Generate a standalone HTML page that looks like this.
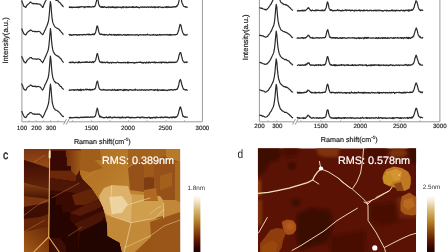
<!DOCTYPE html>
<html><head><meta charset="utf-8">
<style>
html,body{margin:0;padding:0;background:#fff;}
body{width:448px;height:252px;overflow:hidden;position:relative;}
svg{position:absolute;left:0;top:0;}
text{font-family:"Liberation Sans",Arial,sans-serif;text-rendering:geometricPrecision;}
</style></head><body>
<svg width="448" height="252" viewBox="0 0 448 252">
<defs>
<linearGradient id="cbar" x1="0" y1="0" x2="0" y2="1">
<stop offset="0" stop-color="#ffffff"/>
<stop offset="0.09" stop-color="#f4ecd8"/>
<stop offset="0.26" stop-color="#d8b878"/>
<stop offset="0.44" stop-color="#b88830"/>
<stop offset="0.61" stop-color="#905010"/>
<stop offset="0.79" stop-color="#601800"/>
<stop offset="0.93" stop-color="#300500"/>
<stop offset="1" stop-color="#200300"/>
</linearGradient>
<clipPath id="clipc"><rect x="23.9" y="149.1" width="156.3" height="102.9"/></clipPath>
<filter id="blurc" x="-10%" y="-10%" width="120%" height="120%"><feGaussianBlur stdDeviation="1.5"/></filter>
<filter id="blur2" x="-30%" y="-30%" width="160%" height="160%"><feGaussianBlur stdDeviation="1.5"/></filter>
<filter id="blur1" x="-30%" y="-30%" width="160%" height="160%"><feGaussianBlur stdDeviation="0.6"/></filter>
<clipPath id="clipd"><rect x="257.9" y="148.3" width="158.2" height="103.7"/></clipPath>
</defs>
<rect width="448" height="252" fill="#fff"/>
<!-- axes -->
<g fill="none" stroke="#9a9a9a" stroke-width="1">
<path d="M21.9,0 V121.8 H64.8 M68.6,121.8 H202.4 V0"/>
<path d="M259.4,0 V121.8 H293.6 M297.4,121.8 H439.9 V0"/>
<path d="M28.85,121.8 v-1.8 M36.10,121.8 v-1.8 M43.35,121.8 v-1.8 M50.60,121.8 v-1.8 M57.85,121.8 v-1.8 M72.67,121.8 v-1.8 M91.30,121.8 v-1.8 M109.92,121.8 v-1.8 M128.55,121.8 v-1.8 M147.18,121.8 v-1.8 M165.80,121.8 v-1.8 M184.43,121.8 v-1.8 M268.05,121.8 v-1.8 M276.70,121.8 v-1.8 M301.00,121.8 v-1.8 M320.80,121.8 v-1.8 M340.60,121.8 v-1.8 M360.40,121.8 v-1.8 M380.20,121.8 v-1.8 M400.00,121.8 v-1.8 M419.80,121.8 v-1.8" stroke-width="0.6"/>
</g>
<g fill="none" stroke="#666" stroke-width="0.7">
<path d="M63.6,124.6 L66.4,119.2 M66.2,124.6 L69.0,119.2"/>
<path d="M292.6,124.6 L295.4,119.2 M295.2,124.6 L298.0,119.2"/>
</g>
<g fill="none" stroke="#2a2a2a" stroke-width="1.2" stroke-linejoin="round">
<path d="M21.6,0.5 L22.2,2.2 L22.8,3.6 L23.4,5.2 L24.0,6.4 L24.6,6.6 L25.2,7.0 L25.8,7.4 L26.4,6.1 L27.0,5.2 L27.6,4.9 L28.2,4.0 L28.8,3.8 L29.4,3.0 L30.0,2.6 L30.6,1.9 L31.2,2.6 L31.8,3.1 L32.4,3.3 L33.0,3.8 L33.6,3.7 L34.2,3.4 L34.8,3.9 L35.4,3.8 L36.0,3.6 L36.6,3.5 L37.2,4.1 L37.8,3.8 L38.4,4.0 L39.0,4.2 L39.6,4.0 L40.2,4.5 L40.8,4.9 L41.4,5.9 L42.0,6.4 L42.6,7.5 L43.2,6.8 L43.8,4.8 L44.4,3.4 L45.0,2.0 L45.6,1.3 L46.2,-0.3 L46.8,-1.6 L47.4,-3.2 L48.0,-4.8 L48.6,-7.6 L49.2,-12.3 L49.8,-19.8 L50.4,-26.4 L51.0,-22.0 L51.6,-13.9 L52.2,-8.2 L52.8,-5.2 L53.4,-3.2 L54.0,-2.1 L54.6,-1.6 L55.2,-0.4 L55.8,0.1 L56.4,0.4 L57.0,0.5 L57.6,0.8 L58.2,0.8 L58.8,1.9 L59.4,2.3 L60.0,2.8 L60.6,3.2 L61.2,4.4 L61.8,5.2 L62.4,5.3 L63.0,6.5 L63.6,6.9"/>
<path d="M68.8,7.3 L69.2,7.4 L69.6,7.3 L70.0,6.6 L70.4,7.6 L70.8,7.3 L71.2,7.6 L71.6,7.3 L72.0,6.9 L72.4,7.7 L72.8,7.5 L73.2,7.1 L73.6,7.4 L74.0,7.2 L74.4,7.5 L74.8,7.4 L75.2,7.4 L75.6,7.2 L76.0,6.9 L76.4,7.4 L76.8,7.2 L77.2,7.2 L77.6,7.3 L78.0,7.0 L78.4,7.7 L78.8,7.0 L79.2,6.9 L79.6,7.3 L80.0,6.7 L80.4,7.1 L80.8,6.8 L81.2,6.9 L81.6,6.6 L82.0,6.6 L82.4,6.8 L82.8,7.0 L83.2,7.0 L83.6,6.8 L84.0,6.8 L84.4,7.7 L84.8,6.6 L85.2,6.9 L85.6,7.2 L86.0,7.0 L86.4,6.9 L86.8,6.9 L87.2,6.6 L87.6,6.6 L88.0,7.2 L88.4,7.0 L88.8,6.4 L89.2,6.9 L89.6,6.6 L90.0,7.2 L90.4,6.8 L90.8,6.8 L91.2,7.2 L91.6,7.0 L92.0,7.0 L92.4,6.7 L92.8,6.4 L93.2,6.8 L93.6,6.6 L94.0,6.9 L94.4,6.4 L94.8,6.5 L95.2,5.5 L95.6,4.5 L96.0,2.8 L96.4,1.5 L96.8,-0.4 L97.2,-1.7 L97.6,-1.4 L98.0,-0.0 L98.4,2.4 L98.8,4.6 L99.2,5.4 L99.6,6.3 L100.0,6.1 L100.4,6.9 L100.8,7.1 L101.2,7.1 L101.6,6.7 L102.0,7.5 L102.4,6.5 L102.8,7.3 L103.2,7.2 L103.6,7.3 L104.0,6.8 L104.4,6.6 L104.8,6.9 L105.2,7.2 L105.6,7.4 L106.0,7.4 L106.4,7.3 L106.8,7.6 L107.2,7.3 L107.6,7.0 L108.0,7.1 L108.4,7.7 L108.8,6.9 L109.2,6.8 L109.6,7.1 L110.0,7.3 L110.4,7.0 L110.8,7.7 L111.2,7.1 L111.6,7.4 L112.0,6.9 L112.4,7.3 L112.8,6.7 L113.2,7.5 L113.6,7.2 L114.0,7.2 L114.4,7.7 L114.8,7.0 L115.2,7.5 L115.6,7.2 L116.0,7.8 L116.4,7.0 L116.8,7.3 L117.2,7.6 L117.6,7.4 L118.0,6.8 L118.4,7.0 L118.8,7.2 L119.2,7.1 L119.6,7.4 L120.0,7.5 L120.4,7.3 L120.8,7.1 L121.2,7.7 L121.6,7.8 L122.0,7.4 L122.4,7.0 L122.8,6.6 L123.2,7.7 L123.6,6.8 L124.0,7.2 L124.4,7.2 L124.8,7.2 L125.2,7.0 L125.6,7.1 L126.0,7.6 L126.4,6.9 L126.8,7.1 L127.2,7.6 L127.6,7.0 L128.0,7.1 L128.4,7.4 L128.8,7.4 L129.2,6.9 L129.6,7.2 L130.0,6.9 L130.4,7.3 L130.8,7.5 L131.2,7.3 L131.6,7.0 L132.0,7.4 L132.4,6.6 L132.8,7.4 L133.2,6.7 L133.6,7.6 L134.0,7.2 L134.4,7.3 L134.8,7.1 L135.2,7.2 L135.6,7.4 L136.0,6.9 L136.4,7.1 L136.8,6.7 L137.2,7.3 L137.6,7.3 L138.0,7.2 L138.4,7.3 L138.8,7.3 L139.2,7.9 L139.6,7.5 L140.0,7.3 L140.4,7.1 L140.8,6.9 L141.2,7.2 L141.6,7.1 L142.0,7.4 L142.4,7.0 L142.8,6.9 L143.2,7.1 L143.6,7.3 L144.0,7.1 L144.4,7.3 L144.8,6.8 L145.2,7.0 L145.6,7.1 L146.0,7.3 L146.4,7.3 L146.8,7.4 L147.2,6.8 L147.6,6.9 L148.0,6.8 L148.4,7.5 L148.8,7.0 L149.2,7.0 L149.6,7.0 L150.0,7.4 L150.4,7.1 L150.8,6.9 L151.2,7.1 L151.6,6.9 L152.0,7.2 L152.4,7.5 L152.8,7.2 L153.2,7.1 L153.6,6.9 L154.0,7.3 L154.4,7.7 L154.8,6.7 L155.2,6.8 L155.6,7.6 L156.0,7.2 L156.4,7.0 L156.8,7.0 L157.2,7.2 L157.6,7.3 L158.0,6.8 L158.4,7.6 L158.8,6.9 L159.2,7.0 L159.6,6.8 L160.0,7.1 L160.4,7.1 L160.8,7.2 L161.2,7.2 L161.6,7.5 L162.0,7.6 L162.4,7.3 L162.8,7.2 L163.2,7.6 L163.6,7.5 L164.0,7.2 L164.4,7.2 L164.8,7.2 L165.2,7.0 L165.6,7.4 L166.0,6.8 L166.4,7.5 L166.8,6.6 L167.2,6.7 L167.6,6.9 L168.0,7.6 L168.4,7.3 L168.8,6.7 L169.2,7.1 L169.6,7.5 L170.0,7.4 L170.4,7.2 L170.8,7.1 L171.2,6.9 L171.6,7.4 L172.0,7.2 L172.4,6.9 L172.8,7.2 L173.2,7.2 L173.6,6.7 L174.0,6.7 L174.4,6.8 L174.8,7.1 L175.2,6.7 L175.6,7.0 L176.0,6.7 L176.4,6.7 L176.8,5.7 L177.2,6.0 L177.6,5.0 L178.0,4.7 L178.4,3.4 L178.8,2.0 L179.2,-0.1 L179.6,-2.2 L180.0,-3.2 L180.4,-3.2 L180.8,-2.8 L181.2,-1.5 L181.6,0.8 L182.0,2.5 L182.4,3.9 L182.8,4.4 L183.2,5.5 L183.6,6.2 L184.0,6.5 L184.4,6.5 L184.8,6.8 L185.2,7.1 L185.6,6.7 L186.0,6.8 L186.4,7.0 L186.8,7.4 L187.2,7.3 L187.6,7.0"/>
<path d="M21.6,28.5 L22.2,29.8 L22.8,31.6 L23.4,32.9 L24.0,33.9 L24.6,34.4 L25.2,34.7 L25.8,34.9 L26.4,33.9 L27.0,32.9 L27.6,32.2 L28.2,31.6 L28.8,31.4 L29.4,30.5 L30.0,30.6 L30.6,29.9 L31.2,30.3 L31.8,30.6 L32.4,31.2 L33.0,31.5 L33.6,31.4 L34.2,31.4 L34.8,31.6 L35.4,31.7 L36.0,31.4 L36.6,31.7 L37.2,31.8 L37.8,31.5 L38.4,31.4 L39.0,31.4 L39.6,31.8 L40.2,32.0 L40.8,33.0 L41.4,33.7 L42.0,34.0 L42.6,34.7 L43.2,34.1 L43.8,32.6 L44.4,31.5 L45.0,30.1 L45.6,29.0 L46.2,27.3 L46.8,26.3 L47.4,24.5 L48.0,22.8 L48.6,20.3 L49.2,15.2 L49.8,7.5 L50.4,1.5 L51.0,5.2 L51.6,13.5 L52.2,19.2 L52.8,22.4 L53.4,23.9 L54.0,25.3 L54.6,26.3 L55.2,27.0 L55.8,27.3 L56.4,27.9 L57.0,28.4 L57.6,28.3 L58.2,28.8 L58.8,29.1 L59.4,29.8 L60.0,30.7 L60.6,30.9 L61.2,32.1 L61.8,32.8 L62.4,33.0 L63.0,34.2 L63.6,34.5"/>
<path d="M68.8,35.0 L69.2,34.4 L69.6,34.8 L70.0,35.3 L70.4,34.6 L70.8,34.5 L71.2,34.8 L71.6,35.4 L72.0,35.3 L72.4,34.8 L72.8,34.8 L73.2,34.9 L73.6,34.6 L74.0,34.9 L74.4,34.8 L74.8,34.5 L75.2,34.7 L75.6,34.8 L76.0,34.6 L76.4,34.6 L76.8,35.1 L77.2,35.4 L77.6,34.8 L78.0,34.7 L78.4,35.0 L78.8,34.8 L79.2,34.6 L79.6,35.2 L80.0,34.5 L80.4,34.6 L80.8,34.6 L81.2,34.5 L81.6,34.7 L82.0,34.9 L82.4,35.2 L82.8,34.9 L83.2,34.7 L83.6,34.4 L84.0,34.7 L84.4,34.4 L84.8,34.7 L85.2,34.9 L85.6,34.7 L86.0,34.6 L86.4,34.4 L86.8,34.6 L87.2,34.6 L87.6,34.3 L88.0,34.4 L88.4,34.8 L88.8,34.1 L89.2,34.4 L89.6,34.2 L90.0,35.0 L90.4,34.7 L90.8,34.7 L91.2,34.6 L91.6,34.6 L92.0,34.6 L92.4,34.0 L92.8,34.5 L93.2,34.6 L93.6,34.0 L94.0,34.6 L94.4,34.4 L94.8,33.5 L95.2,33.2 L95.6,32.3 L96.0,30.7 L96.4,29.0 L96.8,26.6 L97.2,25.9 L97.6,26.4 L98.0,28.1 L98.4,30.0 L98.8,31.7 L99.2,33.2 L99.6,33.3 L100.0,34.5 L100.4,34.4 L100.8,34.2 L101.2,34.5 L101.6,34.2 L102.0,34.1 L102.4,34.6 L102.8,34.5 L103.2,35.0 L103.6,34.5 L104.0,34.4 L104.4,34.5 L104.8,35.3 L105.2,34.8 L105.6,34.7 L106.0,34.6 L106.4,34.5 L106.8,34.8 L107.2,35.0 L107.6,35.2 L108.0,35.2 L108.4,34.9 L108.8,34.7 L109.2,34.6 L109.6,34.2 L110.0,34.6 L110.4,35.0 L110.8,34.8 L111.2,35.0 L111.6,34.5 L112.0,35.1 L112.4,35.0 L112.8,34.9 L113.2,35.0 L113.6,34.3 L114.0,34.7 L114.4,34.6 L114.8,35.4 L115.2,34.8 L115.6,34.7 L116.0,35.1 L116.4,34.6 L116.8,35.3 L117.2,34.7 L117.6,34.9 L118.0,34.6 L118.4,35.1 L118.8,34.3 L119.2,35.1 L119.6,34.7 L120.0,34.9 L120.4,34.6 L120.8,35.0 L121.2,34.9 L121.6,35.1 L122.0,35.0 L122.4,35.1 L122.8,35.2 L123.2,34.8 L123.6,34.6 L124.0,34.5 L124.4,35.1 L124.8,34.8 L125.2,35.2 L125.6,34.9 L126.0,34.6 L126.4,35.1 L126.8,35.4 L127.2,34.8 L127.6,34.6 L128.0,34.7 L128.4,35.1 L128.8,34.7 L129.2,34.8 L129.6,35.1 L130.0,34.9 L130.4,34.9 L130.8,34.7 L131.2,34.7 L131.6,34.9 L132.0,34.9 L132.4,35.1 L132.8,34.8 L133.2,35.0 L133.6,35.0 L134.0,34.9 L134.4,35.1 L134.8,35.2 L135.2,34.9 L135.6,34.9 L136.0,34.6 L136.4,35.0 L136.8,34.9 L137.2,34.8 L137.6,34.7 L138.0,35.1 L138.4,35.6 L138.8,35.0 L139.2,34.9 L139.6,35.0 L140.0,34.7 L140.4,34.9 L140.8,34.7 L141.2,34.7 L141.6,35.0 L142.0,35.0 L142.4,34.9 L142.8,34.7 L143.2,35.0 L143.6,34.6 L144.0,35.1 L144.4,34.8 L144.8,34.9 L145.2,35.1 L145.6,35.0 L146.0,34.5 L146.4,34.8 L146.8,35.0 L147.2,34.6 L147.6,34.2 L148.0,34.9 L148.4,34.9 L148.8,35.0 L149.2,34.9 L149.6,34.9 L150.0,35.0 L150.4,35.3 L150.8,35.0 L151.2,35.0 L151.6,34.8 L152.0,35.2 L152.4,34.8 L152.8,35.1 L153.2,34.3 L153.6,35.0 L154.0,34.9 L154.4,34.8 L154.8,35.2 L155.2,35.0 L155.6,34.8 L156.0,34.7 L156.4,35.4 L156.8,35.1 L157.2,35.1 L157.6,34.7 L158.0,35.2 L158.4,35.0 L158.8,34.8 L159.2,34.9 L159.6,34.4 L160.0,35.1 L160.4,34.6 L160.8,35.1 L161.2,34.8 L161.6,34.7 L162.0,35.0 L162.4,34.9 L162.8,34.6 L163.2,34.9 L163.6,35.0 L164.0,34.8 L164.4,34.5 L164.8,34.8 L165.2,34.6 L165.6,34.7 L166.0,34.9 L166.4,34.8 L166.8,34.8 L167.2,34.4 L167.6,34.9 L168.0,34.8 L168.4,34.7 L168.8,34.9 L169.2,35.4 L169.6,34.5 L170.0,34.4 L170.4,35.0 L170.8,34.6 L171.2,35.2 L171.6,34.5 L172.0,34.7 L172.4,35.0 L172.8,35.0 L173.2,34.9 L173.6,34.9 L174.0,34.7 L174.4,34.6 L174.8,34.6 L175.2,35.0 L175.6,34.8 L176.0,34.5 L176.4,34.4 L176.8,34.3 L177.2,34.1 L177.6,33.1 L178.0,32.2 L178.4,31.0 L178.8,30.0 L179.2,27.6 L179.6,26.3 L180.0,24.4 L180.4,24.8 L180.8,24.9 L181.2,26.4 L181.6,28.3 L182.0,30.1 L182.4,31.6 L182.8,32.8 L183.2,33.5 L183.6,33.8 L184.0,35.0 L184.4,34.5 L184.8,34.7 L185.2,35.2 L185.6,34.9 L186.0,34.8 L186.4,34.8 L186.8,35.2 L187.2,34.4 L187.6,34.5"/>
<path d="M21.6,56.1 L22.2,57.7 L22.8,58.8 L23.4,60.5 L24.0,61.6 L24.6,61.9 L25.2,62.9 L25.8,62.6 L26.4,61.8 L27.0,60.5 L27.6,59.9 L28.2,59.3 L28.8,59.0 L29.4,58.0 L30.0,57.7 L30.6,57.5 L31.2,57.5 L31.8,58.2 L32.4,58.7 L33.0,58.8 L33.6,59.0 L34.2,59.0 L34.8,58.8 L35.4,58.9 L36.0,59.4 L36.6,59.0 L37.2,59.1 L37.8,58.9 L38.4,59.0 L39.0,59.0 L39.6,59.5 L40.2,59.6 L40.8,60.5 L41.4,61.3 L42.0,61.8 L42.6,62.8 L43.2,61.8 L43.8,60.3 L44.4,59.3 L45.0,57.7 L45.6,56.6 L46.2,55.0 L46.8,53.8 L47.4,52.1 L48.0,50.8 L48.6,48.0 L49.2,42.9 L49.8,35.7 L50.4,28.7 L51.0,32.7 L51.6,41.4 L52.2,46.6 L52.8,49.9 L53.4,51.9 L54.0,52.7 L54.6,54.1 L55.2,54.5 L55.8,55.0 L56.4,55.3 L57.0,55.9 L57.6,56.1 L58.2,56.2 L58.8,56.7 L59.4,57.5 L60.0,58.1 L60.6,58.5 L61.2,59.2 L61.8,60.3 L62.4,61.0 L63.0,61.9 L63.6,62.6"/>
<path d="M68.8,62.7 L69.2,62.3 L69.6,62.6 L70.0,62.7 L70.4,62.2 L70.8,62.6 L71.2,62.2 L71.6,62.4 L72.0,62.6 L72.4,62.3 L72.8,61.9 L73.2,62.6 L73.6,62.6 L74.0,62.3 L74.4,62.5 L74.8,63.0 L75.2,62.6 L75.6,62.5 L76.0,62.1 L76.4,62.4 L76.8,62.5 L77.2,62.5 L77.6,62.6 L78.0,62.9 L78.4,61.7 L78.8,62.6 L79.2,62.6 L79.6,61.7 L80.0,62.6 L80.4,62.5 L80.8,62.7 L81.2,62.4 L81.6,62.3 L82.0,62.5 L82.4,62.2 L82.8,62.3 L83.2,62.3 L83.6,62.5 L84.0,62.4 L84.4,62.0 L84.8,62.3 L85.2,62.3 L85.6,61.9 L86.0,62.4 L86.4,61.9 L86.8,61.7 L87.2,62.3 L87.6,62.0 L88.0,62.5 L88.4,62.5 L88.8,62.2 L89.2,61.8 L89.6,62.3 L90.0,61.8 L90.4,62.1 L90.8,62.3 L91.2,62.5 L91.6,62.1 L92.0,62.6 L92.4,61.7 L92.8,61.7 L93.2,62.1 L93.6,62.5 L94.0,61.7 L94.4,61.6 L94.8,61.4 L95.2,60.8 L95.6,60.0 L96.0,58.6 L96.4,56.9 L96.8,54.9 L97.2,53.5 L97.6,53.7 L98.0,55.7 L98.4,57.1 L98.8,59.5 L99.2,60.0 L99.6,61.6 L100.0,62.0 L100.4,62.3 L100.8,61.9 L101.2,62.2 L101.6,62.6 L102.0,61.9 L102.4,62.7 L102.8,62.2 L103.2,62.7 L103.6,62.5 L104.0,62.1 L104.4,62.3 L104.8,62.3 L105.2,62.9 L105.6,62.5 L106.0,62.4 L106.4,62.3 L106.8,62.2 L107.2,61.9 L107.6,62.4 L108.0,62.9 L108.4,62.4 L108.8,62.7 L109.2,63.1 L109.6,62.6 L110.0,62.7 L110.4,62.6 L110.8,62.3 L111.2,62.4 L111.6,63.2 L112.0,62.7 L112.4,62.4 L112.8,62.3 L113.2,62.6 L113.6,62.6 L114.0,62.6 L114.4,62.6 L114.8,62.5 L115.2,62.5 L115.6,62.7 L116.0,62.8 L116.4,62.7 L116.8,62.5 L117.2,62.0 L117.6,62.1 L118.0,62.1 L118.4,62.7 L118.8,62.5 L119.2,62.6 L119.6,62.5 L120.0,62.5 L120.4,62.8 L120.8,62.5 L121.2,62.8 L121.6,62.7 L122.0,62.6 L122.4,62.6 L122.8,62.5 L123.2,62.6 L123.6,62.4 L124.0,62.9 L124.4,62.5 L124.8,62.4 L125.2,62.4 L125.6,62.9 L126.0,62.7 L126.4,62.6 L126.8,62.7 L127.2,62.7 L127.6,62.0 L128.0,63.2 L128.4,62.7 L128.8,62.2 L129.2,62.4 L129.6,62.7 L130.0,62.7 L130.4,62.7 L130.8,62.5 L131.2,62.6 L131.6,62.6 L132.0,62.7 L132.4,62.7 L132.8,62.6 L133.2,62.4 L133.6,62.7 L134.0,63.1 L134.4,63.3 L134.8,62.5 L135.2,62.5 L135.6,62.8 L136.0,62.8 L136.4,62.4 L136.8,62.4 L137.2,62.3 L137.6,62.7 L138.0,62.5 L138.4,62.5 L138.8,62.0 L139.2,62.2 L139.6,62.4 L140.0,62.2 L140.4,62.4 L140.8,62.0 L141.2,62.4 L141.6,62.6 L142.0,62.9 L142.4,63.0 L142.8,62.3 L143.2,62.8 L143.6,63.1 L144.0,62.6 L144.4,62.3 L144.8,62.5 L145.2,62.7 L145.6,63.2 L146.0,62.7 L146.4,62.0 L146.8,62.8 L147.2,62.5 L147.6,62.5 L148.0,62.8 L148.4,62.1 L148.8,62.9 L149.2,62.5 L149.6,62.0 L150.0,62.4 L150.4,62.8 L150.8,62.7 L151.2,62.3 L151.6,62.5 L152.0,62.3 L152.4,62.3 L152.8,62.2 L153.2,62.5 L153.6,62.4 L154.0,62.7 L154.4,61.9 L154.8,62.0 L155.2,63.0 L155.6,62.3 L156.0,62.6 L156.4,62.3 L156.8,62.7 L157.2,62.5 L157.6,62.7 L158.0,62.7 L158.4,62.5 L158.8,62.2 L159.2,62.3 L159.6,62.3 L160.0,62.8 L160.4,62.4 L160.8,62.1 L161.2,62.5 L161.6,63.1 L162.0,61.9 L162.4,62.2 L162.8,62.4 L163.2,62.4 L163.6,62.4 L164.0,62.0 L164.4,62.7 L164.8,62.5 L165.2,62.4 L165.6,62.6 L166.0,62.2 L166.4,62.7 L166.8,62.4 L167.2,62.5 L167.6,62.8 L168.0,62.7 L168.4,62.2 L168.8,62.7 L169.2,62.1 L169.6,62.3 L170.0,62.6 L170.4,62.1 L170.8,62.4 L171.2,62.1 L171.6,62.7 L172.0,62.7 L172.4,62.1 L172.8,62.5 L173.2,62.5 L173.6,62.1 L174.0,62.6 L174.4,62.4 L174.8,62.3 L175.2,62.1 L175.6,62.4 L176.0,62.4 L176.4,62.0 L176.8,62.0 L177.2,61.2 L177.6,60.7 L178.0,59.3 L178.4,58.8 L178.8,56.4 L179.2,54.8 L179.6,53.7 L180.0,52.8 L180.4,52.5 L180.8,52.6 L181.2,54.5 L181.6,56.2 L182.0,57.6 L182.4,59.4 L182.8,60.8 L183.2,61.0 L183.6,61.5 L184.0,62.1 L184.4,62.1 L184.8,62.7 L185.2,62.2 L185.6,62.3 L186.0,62.5 L186.4,62.0 L186.8,62.5 L187.2,62.0 L187.6,62.5"/>
<path d="M21.6,83.6 L22.2,84.9 L22.8,86.2 L23.4,88.3 L24.0,89.3 L24.6,89.4 L25.2,90.1 L25.8,90.2 L26.4,89.4 L27.0,87.9 L27.6,87.0 L28.2,86.8 L28.8,86.3 L29.4,86.1 L30.0,85.6 L30.6,84.9 L31.2,85.3 L31.8,85.7 L32.4,86.3 L33.0,86.2 L33.6,86.4 L34.2,86.2 L34.8,86.6 L35.4,86.2 L36.0,86.9 L36.6,86.6 L37.2,86.7 L37.8,86.4 L38.4,86.5 L39.0,86.7 L39.6,86.9 L40.2,87.0 L40.8,87.6 L41.4,88.8 L42.0,89.4 L42.6,90.0 L43.2,89.1 L43.8,87.8 L44.4,86.7 L45.0,84.7 L45.6,83.8 L46.2,82.6 L46.8,81.0 L47.4,79.9 L48.0,78.3 L48.6,75.5 L49.2,70.7 L49.8,62.7 L50.4,56.1 L51.0,60.4 L51.6,68.6 L52.2,74.0 L52.8,77.7 L53.4,79.1 L54.0,80.8 L54.6,81.8 L55.2,81.9 L55.8,82.9 L56.4,82.8 L57.0,83.0 L57.6,83.2 L58.2,83.5 L58.8,84.5 L59.4,85.0 L60.0,86.0 L60.6,86.5 L61.2,86.6 L61.8,87.6 L62.4,88.3 L63.0,88.8 L63.6,89.6"/>
<path d="M68.8,90.0 L69.2,90.4 L69.6,89.9 L70.0,90.1 L70.4,90.0 L70.8,90.3 L71.2,89.8 L71.6,89.9 L72.0,89.9 L72.4,89.8 L72.8,89.8 L73.2,89.7 L73.6,90.2 L74.0,90.4 L74.4,89.7 L74.8,90.2 L75.2,89.7 L75.6,89.8 L76.0,89.9 L76.4,90.0 L76.8,90.1 L77.2,89.4 L77.6,89.6 L78.0,90.0 L78.4,89.9 L78.8,90.5 L79.2,89.9 L79.6,89.7 L80.0,90.3 L80.4,89.2 L80.8,89.4 L81.2,90.7 L81.6,89.7 L82.0,89.9 L82.4,89.8 L82.8,89.6 L83.2,89.8 L83.6,89.5 L84.0,90.1 L84.4,90.0 L84.8,90.0 L85.2,89.5 L85.6,89.2 L86.0,89.6 L86.4,89.4 L86.8,89.8 L87.2,89.2 L87.6,89.4 L88.0,89.7 L88.4,89.8 L88.8,89.7 L89.2,89.3 L89.6,89.4 L90.0,90.2 L90.4,89.9 L90.8,89.4 L91.2,90.1 L91.6,89.6 L92.0,89.6 L92.4,89.3 L92.8,90.0 L93.2,89.6 L93.6,89.5 L94.0,89.2 L94.4,88.9 L94.8,89.1 L95.2,88.5 L95.6,87.9 L96.0,85.7 L96.4,83.9 L96.8,82.4 L97.2,81.2 L97.6,81.2 L98.0,83.4 L98.4,85.2 L98.8,87.1 L99.2,88.2 L99.6,89.2 L100.0,89.2 L100.4,89.5 L100.8,90.0 L101.2,89.8 L101.6,89.9 L102.0,90.1 L102.4,89.9 L102.8,90.0 L103.2,89.3 L103.6,89.7 L104.0,90.1 L104.4,89.7 L104.8,89.8 L105.2,90.0 L105.6,89.9 L106.0,90.2 L106.4,90.1 L106.8,89.9 L107.2,90.3 L107.6,89.9 L108.0,89.8 L108.4,90.1 L108.8,90.1 L109.2,89.9 L109.6,89.7 L110.0,89.8 L110.4,90.0 L110.8,90.2 L111.2,90.5 L111.6,89.9 L112.0,89.9 L112.4,89.4 L112.8,90.3 L113.2,90.2 L113.6,90.0 L114.0,89.8 L114.4,89.3 L114.8,90.2 L115.2,89.8 L115.6,90.4 L116.0,90.2 L116.4,90.3 L116.8,89.9 L117.2,90.3 L117.6,89.6 L118.0,90.4 L118.4,90.0 L118.8,89.7 L119.2,89.9 L119.6,89.7 L120.0,90.1 L120.4,89.8 L120.8,89.6 L121.2,89.9 L121.6,89.9 L122.0,90.0 L122.4,90.2 L122.8,90.3 L123.2,90.1 L123.6,90.5 L124.0,89.3 L124.4,90.0 L124.8,90.3 L125.2,89.6 L125.6,89.9 L126.0,90.1 L126.4,89.6 L126.8,89.8 L127.2,90.2 L127.6,89.9 L128.0,90.4 L128.4,90.7 L128.8,90.0 L129.2,89.7 L129.6,90.0 L130.0,89.8 L130.4,89.6 L130.8,89.9 L131.2,89.9 L131.6,89.9 L132.0,90.2 L132.4,90.3 L132.8,90.1 L133.2,89.9 L133.6,90.1 L134.0,90.0 L134.4,90.1 L134.8,89.7 L135.2,89.1 L135.6,90.2 L136.0,89.8 L136.4,89.9 L136.8,90.0 L137.2,90.0 L137.6,89.9 L138.0,90.4 L138.4,90.0 L138.8,90.1 L139.2,89.7 L139.6,90.0 L140.0,90.1 L140.4,90.0 L140.8,90.1 L141.2,89.7 L141.6,90.1 L142.0,89.7 L142.4,89.9 L142.8,89.8 L143.2,90.0 L143.6,90.3 L144.0,90.1 L144.4,89.7 L144.8,90.0 L145.2,90.3 L145.6,90.2 L146.0,90.1 L146.4,89.7 L146.8,89.8 L147.2,89.8 L147.6,89.9 L148.0,90.1 L148.4,90.0 L148.8,89.9 L149.2,90.1 L149.6,89.8 L150.0,89.9 L150.4,90.0 L150.8,89.6 L151.2,89.8 L151.6,89.6 L152.0,89.7 L152.4,89.9 L152.8,90.0 L153.2,90.1 L153.6,90.1 L154.0,89.7 L154.4,90.5 L154.8,90.4 L155.2,89.6 L155.6,89.8 L156.0,89.9 L156.4,90.0 L156.8,90.2 L157.2,90.0 L157.6,89.3 L158.0,90.8 L158.4,90.2 L158.8,90.2 L159.2,89.8 L159.6,90.0 L160.0,90.2 L160.4,89.8 L160.8,90.3 L161.2,90.0 L161.6,90.4 L162.0,90.0 L162.4,90.4 L162.8,89.5 L163.2,90.4 L163.6,90.1 L164.0,89.9 L164.4,90.3 L164.8,89.9 L165.2,90.2 L165.6,90.2 L166.0,90.3 L166.4,90.6 L166.8,90.3 L167.2,90.6 L167.6,90.1 L168.0,90.0 L168.4,90.1 L168.8,89.9 L169.2,89.6 L169.6,90.0 L170.0,89.6 L170.4,89.8 L170.8,89.8 L171.2,89.8 L171.6,89.6 L172.0,89.9 L172.4,89.9 L172.8,90.2 L173.2,90.0 L173.6,90.1 L174.0,89.7 L174.4,89.7 L174.8,89.4 L175.2,89.5 L175.6,89.9 L176.0,89.5 L176.4,89.4 L176.8,89.1 L177.2,89.3 L177.6,88.2 L178.0,87.6 L178.4,86.0 L178.8,84.7 L179.2,82.4 L179.6,80.6 L180.0,80.2 L180.4,79.5 L180.8,80.4 L181.2,82.0 L181.6,83.7 L182.0,85.3 L182.4,86.4 L182.8,87.6 L183.2,88.6 L183.6,89.2 L184.0,89.5 L184.4,89.6 L184.8,89.4 L185.2,89.7 L185.6,90.0 L186.0,89.5 L186.4,89.6 L186.8,90.1 L187.2,90.3 L187.6,90.0"/>
<path d="M21.6,111.1 L22.2,112.4 L22.8,114.1 L23.4,115.3 L24.0,116.4 L24.6,117.0 L25.2,117.5 L25.8,117.6 L26.4,116.7 L27.0,115.8 L27.6,114.6 L28.2,114.5 L28.8,113.8 L29.4,113.3 L30.0,112.8 L30.6,112.4 L31.2,112.6 L31.8,113.1 L32.4,113.6 L33.0,114.0 L33.6,114.2 L34.2,113.8 L34.8,114.3 L35.4,114.2 L36.0,114.2 L36.6,114.4 L37.2,113.9 L37.8,114.3 L38.4,114.4 L39.0,113.9 L39.6,114.3 L40.2,114.8 L40.8,115.1 L41.4,116.3 L42.0,117.0 L42.6,117.5 L43.2,116.6 L43.8,115.2 L44.4,114.2 L45.0,112.4 L45.6,111.2 L46.2,110.0 L46.8,108.9 L47.4,107.0 L48.0,105.1 L48.6,103.0 L49.2,97.9 L49.8,90.3 L50.4,84.2 L51.0,87.8 L51.6,96.0 L52.2,102.0 L52.8,104.7 L53.4,106.6 L54.0,108.4 L54.6,108.8 L55.2,109.9 L55.8,109.9 L56.4,110.3 L57.0,110.5 L57.6,111.0 L58.2,111.4 L58.8,111.9 L59.4,112.6 L60.0,113.1 L60.6,114.0 L61.2,114.7 L61.8,115.3 L62.4,116.1 L63.0,116.2 L63.6,117.1"/>
<path d="M68.8,117.5 L69.2,117.6 L69.6,118.1 L70.0,117.4 L70.4,117.8 L70.8,117.3 L71.2,117.7 L71.6,117.7 L72.0,118.1 L72.4,117.7 L72.8,117.5 L73.2,117.7 L73.6,117.7 L74.0,117.4 L74.4,117.7 L74.8,117.4 L75.2,117.4 L75.6,117.4 L76.0,117.7 L76.4,117.3 L76.8,117.2 L77.2,117.8 L77.6,117.3 L78.0,117.3 L78.4,117.7 L78.8,117.7 L79.2,118.0 L79.6,117.5 L80.0,117.3 L80.4,117.6 L80.8,117.3 L81.2,117.5 L81.6,117.2 L82.0,117.7 L82.4,117.2 L82.8,117.5 L83.2,117.3 L83.6,117.6 L84.0,117.4 L84.4,117.0 L84.8,117.3 L85.2,116.9 L85.6,117.4 L86.0,117.4 L86.4,117.4 L86.8,116.9 L87.2,116.9 L87.6,117.4 L88.0,117.3 L88.4,116.9 L88.8,117.0 L89.2,117.4 L89.6,117.5 L90.0,117.2 L90.4,116.8 L90.8,117.2 L91.2,116.8 L91.6,117.2 L92.0,117.1 L92.4,116.9 L92.8,117.2 L93.2,117.0 L93.6,117.1 L94.0,116.8 L94.4,116.9 L94.8,116.3 L95.2,116.3 L95.6,115.1 L96.0,113.7 L96.4,111.0 L96.8,110.2 L97.2,108.0 L97.6,109.2 L98.0,110.6 L98.4,112.9 L98.8,114.7 L99.2,115.2 L99.6,116.6 L100.0,117.1 L100.4,116.1 L100.8,116.9 L101.2,116.7 L101.6,117.2 L102.0,117.3 L102.4,117.4 L102.8,117.3 L103.2,117.8 L103.6,117.7 L104.0,117.3 L104.4,117.8 L104.8,117.6 L105.2,117.5 L105.6,117.4 L106.0,117.4 L106.4,116.8 L106.8,117.4 L107.2,117.6 L107.6,117.9 L108.0,117.4 L108.4,117.1 L108.8,117.5 L109.2,117.0 L109.6,117.7 L110.0,117.5 L110.4,116.8 L110.8,117.3 L111.2,117.6 L111.6,117.8 L112.0,117.9 L112.4,117.9 L112.8,117.2 L113.2,117.6 L113.6,117.4 L114.0,117.4 L114.4,117.4 L114.8,117.0 L115.2,117.6 L115.6,117.3 L116.0,117.5 L116.4,117.7 L116.8,117.7 L117.2,117.3 L117.6,117.2 L118.0,117.7 L118.4,117.4 L118.8,117.3 L119.2,117.2 L119.6,117.9 L120.0,117.5 L120.4,117.3 L120.8,118.1 L121.2,117.8 L121.6,117.4 L122.0,117.1 L122.4,116.9 L122.8,117.9 L123.2,117.3 L123.6,117.6 L124.0,117.7 L124.4,117.6 L124.8,117.3 L125.2,117.3 L125.6,117.9 L126.0,117.4 L126.4,117.1 L126.8,117.6 L127.2,117.2 L127.6,117.3 L128.0,117.2 L128.4,117.5 L128.8,117.0 L129.2,117.5 L129.6,117.7 L130.0,118.0 L130.4,117.3 L130.8,118.0 L131.2,117.8 L131.6,117.6 L132.0,117.1 L132.4,117.6 L132.8,117.6 L133.2,117.7 L133.6,117.7 L134.0,117.8 L134.4,117.5 L134.8,117.5 L135.2,117.6 L135.6,117.7 L136.0,117.8 L136.4,117.4 L136.8,117.3 L137.2,117.4 L137.6,117.2 L138.0,117.1 L138.4,117.5 L138.8,117.5 L139.2,117.2 L139.6,117.6 L140.0,118.0 L140.4,117.6 L140.8,117.4 L141.2,117.7 L141.6,117.2 L142.0,117.2 L142.4,116.9 L142.8,117.5 L143.2,117.2 L143.6,117.5 L144.0,117.8 L144.4,117.6 L144.8,117.3 L145.2,117.8 L145.6,117.5 L146.0,117.5 L146.4,117.7 L146.8,117.5 L147.2,117.9 L147.6,117.8 L148.0,117.3 L148.4,117.4 L148.8,117.4 L149.2,117.1 L149.6,117.9 L150.0,117.7 L150.4,117.6 L150.8,118.4 L151.2,117.6 L151.6,117.7 L152.0,117.5 L152.4,118.0 L152.8,117.6 L153.2,117.2 L153.6,117.7 L154.0,117.7 L154.4,117.5 L154.8,117.4 L155.2,118.0 L155.6,117.2 L156.0,117.9 L156.4,117.3 L156.8,116.9 L157.2,117.0 L157.6,117.5 L158.0,117.7 L158.4,117.6 L158.8,117.6 L159.2,117.5 L159.6,117.4 L160.0,117.5 L160.4,117.2 L160.8,117.8 L161.2,117.1 L161.6,117.3 L162.0,117.0 L162.4,117.7 L162.8,117.5 L163.2,117.3 L163.6,117.7 L164.0,117.2 L164.4,117.0 L164.8,117.4 L165.2,116.8 L165.6,117.4 L166.0,117.2 L166.4,117.0 L166.8,117.4 L167.2,117.6 L167.6,117.2 L168.0,117.2 L168.4,117.7 L168.8,117.5 L169.2,118.0 L169.6,117.8 L170.0,117.4 L170.4,117.2 L170.8,117.4 L171.2,117.1 L171.6,117.3 L172.0,118.0 L172.4,117.2 L172.8,116.9 L173.2,117.1 L173.6,117.5 L174.0,117.2 L174.4,117.5 L174.8,116.8 L175.2,117.7 L175.6,117.1 L176.0,116.9 L176.4,117.1 L176.8,116.6 L177.2,116.2 L177.6,115.7 L178.0,114.4 L178.4,113.6 L178.8,111.7 L179.2,110.0 L179.6,109.1 L180.0,107.2 L180.4,106.9 L180.8,107.6 L181.2,109.2 L181.6,110.8 L182.0,112.5 L182.4,114.0 L182.8,116.1 L183.2,116.4 L183.6,116.2 L184.0,116.8 L184.4,117.2 L184.8,117.1 L185.2,116.7 L185.6,117.1 L186.0,117.1 L186.4,117.2 L186.8,117.0 L187.2,117.1 L187.6,117.6"/>
<path d="M259.4,7.5 L260.0,7.8 L260.6,8.1 L261.2,8.4 L261.8,8.0 L262.4,8.5 L263.0,9.0 L263.6,9.0 L264.2,9.2 L264.8,9.6 L265.4,9.3 L266.0,10.0 L266.6,9.5 L267.2,9.0 L267.8,8.4 L268.4,7.9 L269.0,6.7 L269.6,6.1 L270.2,5.0 L270.8,4.5 L271.4,3.4 L272.0,2.0 L272.6,0.9 L273.2,-0.7 L273.8,-2.5 L274.4,-5.7 L275.0,-10.1 L275.6,-17.3 L276.2,-23.1 L276.8,-20.4 L277.4,-12.4 L278.0,-7.4 L278.6,-3.7 L279.2,-1.5 L279.8,-0.2 L280.4,1.2 L281.0,2.5 L281.6,2.9 L282.2,3.1 L282.8,3.9 L283.4,3.9 L284.0,4.6 L284.6,4.5 L285.2,4.4 L285.8,5.2 L286.4,4.8 L287.0,5.2 L287.6,5.9 L288.2,5.8 L288.8,6.6 L289.4,7.4 L290.0,7.8 L290.6,8.3 L291.2,9.1 L291.8,9.7 L292.4,10.0 L293.0,10.5"/>
<path d="M297.0,10.4 L297.4,10.7 L297.8,11.2 L298.2,10.4 L298.6,10.7 L299.0,10.5 L299.4,10.6 L299.8,11.0 L300.2,10.5 L300.6,10.6 L301.0,10.5 L301.4,10.3 L301.8,10.8 L302.2,10.4 L302.6,10.9 L303.0,10.1 L303.4,10.6 L303.8,10.9 L304.2,10.2 L304.6,10.5 L305.0,10.8 L305.4,10.4 L305.8,10.0 L306.2,9.9 L306.6,9.7 L307.0,9.0 L307.4,8.5 L307.8,8.2 L308.2,7.6 L308.6,8.5 L309.0,8.2 L309.4,8.9 L309.8,9.5 L310.2,10.2 L310.6,10.0 L311.0,10.8 L311.4,10.9 L311.8,10.6 L312.2,10.0 L312.6,10.1 L313.0,10.4 L313.4,10.5 L313.8,10.6 L314.2,10.8 L314.6,10.6 L315.0,10.5 L315.4,10.6 L315.8,9.9 L316.2,10.8 L316.6,10.0 L317.0,9.9 L317.4,10.3 L317.8,10.3 L318.2,10.1 L318.6,10.4 L319.0,10.5 L319.4,10.6 L319.8,10.5 L320.2,10.3 L320.6,10.5 L321.0,10.8 L321.4,10.3 L321.8,10.4 L322.2,9.8 L322.6,10.4 L323.0,10.9 L323.4,10.5 L323.8,10.2 L324.2,10.6 L324.6,10.4 L325.0,10.2 L325.4,9.1 L325.8,8.2 L326.2,7.4 L326.6,5.6 L327.0,3.6 L327.4,1.8 L327.8,2.4 L328.2,4.0 L328.6,5.7 L329.0,7.9 L329.4,8.7 L329.8,9.4 L330.2,10.4 L330.6,10.4 L331.0,9.6 L331.4,9.8 L331.8,10.4 L332.2,10.2 L332.6,10.9 L333.0,10.8 L333.4,10.8 L333.8,10.3 L334.2,10.4 L334.6,10.7 L335.0,10.3 L335.4,10.6 L335.8,10.5 L336.2,10.7 L336.6,10.5 L337.0,10.2 L337.4,9.7 L337.8,10.1 L338.2,10.1 L338.6,10.7 L339.0,10.1 L339.4,10.3 L339.8,10.6 L340.2,10.7 L340.6,10.8 L341.0,10.6 L341.4,10.9 L341.8,10.3 L342.2,10.8 L342.6,10.1 L343.0,10.4 L343.4,10.6 L343.8,10.7 L344.2,10.4 L344.6,10.3 L345.0,10.1 L345.4,9.8 L345.8,9.9 L346.2,10.9 L346.6,10.0 L347.0,10.0 L347.4,10.0 L347.8,10.4 L348.2,10.4 L348.6,10.3 L349.0,10.1 L349.4,10.4 L349.8,10.1 L350.2,10.6 L350.6,10.9 L351.0,10.2 L351.4,10.6 L351.8,10.3 L352.2,10.4 L352.6,10.1 L353.0,10.5 L353.4,10.5 L353.8,10.8 L354.2,11.2 L354.6,10.2 L355.0,10.8 L355.4,10.3 L355.8,10.3 L356.2,10.2 L356.6,10.6 L357.0,10.8 L357.4,10.5 L357.8,10.6 L358.2,10.3 L358.6,10.4 L359.0,10.1 L359.4,10.5 L359.8,9.9 L360.2,11.1 L360.6,10.8 L361.0,10.3 L361.4,10.4 L361.8,10.4 L362.2,10.5 L362.6,10.6 L363.0,11.0 L363.4,10.4 L363.8,9.9 L364.2,10.6 L364.6,10.6 L365.0,10.3 L365.4,10.7 L365.8,10.4 L366.2,10.3 L366.6,10.5 L367.0,10.1 L367.4,10.4 L367.8,11.0 L368.2,10.8 L368.6,10.7 L369.0,10.5 L369.4,10.6 L369.8,10.2 L370.2,10.5 L370.6,10.3 L371.0,10.3 L371.4,10.9 L371.8,10.3 L372.2,10.5 L372.6,10.5 L373.0,10.8 L373.4,10.4 L373.8,10.6 L374.2,10.6 L374.6,10.4 L375.0,10.3 L375.4,10.2 L375.8,10.8 L376.2,10.2 L376.6,10.8 L377.0,11.0 L377.4,10.3 L377.8,10.2 L378.2,10.2 L378.6,10.3 L379.0,10.9 L379.4,10.3 L379.8,10.2 L380.2,10.0 L380.6,10.5 L381.0,10.6 L381.4,10.9 L381.8,10.6 L382.2,10.5 L382.6,10.5 L383.0,11.3 L383.4,10.9 L383.8,10.7 L384.2,10.4 L384.6,10.4 L385.0,10.5 L385.4,10.5 L385.8,10.6 L386.2,10.3 L386.6,11.0 L387.0,10.2 L387.4,10.7 L387.8,10.7 L388.2,10.8 L388.6,10.9 L389.0,10.6 L389.4,10.5 L389.8,10.9 L390.2,10.9 L390.6,10.5 L391.0,10.7 L391.4,10.2 L391.8,10.6 L392.2,9.9 L392.6,10.8 L393.0,10.3 L393.4,10.8 L393.8,10.6 L394.2,10.3 L394.6,10.7 L395.0,11.0 L395.4,10.2 L395.8,11.0 L396.2,10.6 L396.6,10.2 L397.0,10.4 L397.4,10.6 L397.8,10.7 L398.2,10.3 L398.6,10.4 L399.0,10.6 L399.4,10.6 L399.8,11.0 L400.2,10.7 L400.6,10.7 L401.0,10.2 L401.4,10.2 L401.8,10.2 L402.2,10.5 L402.6,10.6 L403.0,10.9 L403.4,10.7 L403.8,10.2 L404.2,10.4 L404.6,11.1 L405.0,10.5 L405.4,10.6 L405.8,10.1 L406.2,10.0 L406.6,10.3 L407.0,10.4 L407.4,10.6 L407.8,10.4 L408.2,9.9 L408.6,11.1 L409.0,10.5 L409.4,9.9 L409.8,10.8 L410.2,10.5 L410.6,10.2 L411.0,10.3 L411.4,10.3 L411.8,9.5 L412.2,10.3 L412.6,9.8 L413.0,9.6 L413.4,8.7 L413.8,7.9 L414.2,7.4 L414.6,4.6 L415.0,4.3 L415.4,2.8 L415.8,0.9 L416.2,0.9 L416.6,1.2 L417.0,2.3 L417.4,3.6 L417.8,5.2 L418.2,6.9 L418.6,8.0 L419.0,9.0 L419.4,9.6 L419.8,9.6 L420.2,10.6 L420.6,10.6 L421.0,9.8 L421.4,10.2 L421.8,10.2 L422.2,10.4 L422.6,10.1 L423.0,10.8"/>
<path d="M259.4,34.9 L260.0,35.5 L260.6,35.3 L261.2,35.8 L261.8,35.5 L262.4,35.9 L263.0,35.9 L263.6,36.2 L264.2,36.7 L264.8,36.8 L265.4,37.1 L266.0,37.1 L266.6,36.8 L267.2,36.4 L267.8,36.3 L268.4,35.0 L269.0,34.4 L269.6,33.8 L270.2,32.7 L270.8,31.5 L271.4,31.0 L272.0,29.2 L272.6,27.9 L273.2,26.6 L273.8,25.0 L274.4,22.3 L275.0,17.0 L275.6,9.8 L276.2,4.4 L276.8,7.1 L277.4,14.5 L278.0,20.5 L278.6,23.5 L279.2,26.0 L279.8,27.3 L280.4,28.8 L281.0,30.0 L281.6,30.2 L282.2,30.6 L282.8,31.2 L283.4,31.6 L284.0,31.5 L284.6,31.8 L285.2,32.1 L285.8,32.4 L286.4,32.4 L287.0,33.0 L287.6,33.1 L288.2,33.8 L288.8,33.9 L289.4,34.5 L290.0,35.0 L290.6,35.6 L291.2,36.3 L291.8,37.2 L292.4,37.4 L293.0,37.8"/>
<path d="M297.0,38.7 L297.4,37.8 L297.8,38.0 L298.2,37.8 L298.6,37.8 L299.0,38.3 L299.4,38.0 L299.8,38.2 L300.2,38.0 L300.6,38.2 L301.0,38.0 L301.4,37.6 L301.8,37.7 L302.2,38.1 L302.6,37.6 L303.0,37.7 L303.4,38.5 L303.8,38.0 L304.2,37.7 L304.6,38.0 L305.0,38.3 L305.4,37.7 L305.8,37.7 L306.2,37.5 L306.6,36.9 L307.0,36.8 L307.4,36.1 L307.8,35.8 L308.2,35.2 L308.6,35.4 L309.0,35.9 L309.4,36.1 L309.8,36.8 L310.2,37.8 L310.6,37.5 L311.0,37.8 L311.4,37.8 L311.8,38.0 L312.2,37.3 L312.6,38.2 L313.0,38.3 L313.4,37.8 L313.8,38.1 L314.2,38.1 L314.6,38.0 L315.0,38.2 L315.4,37.9 L315.8,37.9 L316.2,37.7 L316.6,38.0 L317.0,37.7 L317.4,37.5 L317.8,37.6 L318.2,38.2 L318.6,37.9 L319.0,38.2 L319.4,37.9 L319.8,37.9 L320.2,37.6 L320.6,37.9 L321.0,38.0 L321.4,38.1 L321.8,38.0 L322.2,37.6 L322.6,37.9 L323.0,38.0 L323.4,37.5 L323.8,37.7 L324.2,37.6 L324.6,37.8 L325.0,37.4 L325.4,37.2 L325.8,36.0 L326.2,34.6 L326.6,32.7 L327.0,30.9 L327.4,30.3 L327.8,29.6 L328.2,31.3 L328.6,33.2 L329.0,34.6 L329.4,36.2 L329.8,37.3 L330.2,36.9 L330.6,37.7 L331.0,37.3 L331.4,38.1 L331.8,37.8 L332.2,37.7 L332.6,37.5 L333.0,38.2 L333.4,37.5 L333.8,37.8 L334.2,38.1 L334.6,37.6 L335.0,37.8 L335.4,37.6 L335.8,38.4 L336.2,38.2 L336.6,37.6 L337.0,37.5 L337.4,37.9 L337.8,38.1 L338.2,38.4 L338.6,38.4 L339.0,38.4 L339.4,37.8 L339.8,37.8 L340.2,38.1 L340.6,38.3 L341.0,37.6 L341.4,38.1 L341.8,38.4 L342.2,38.3 L342.6,37.7 L343.0,38.1 L343.4,38.0 L343.8,37.6 L344.2,37.8 L344.6,38.1 L345.0,37.9 L345.4,38.0 L345.8,38.0 L346.2,38.5 L346.6,38.1 L347.0,38.1 L347.4,38.1 L347.8,37.8 L348.2,37.6 L348.6,37.9 L349.0,37.9 L349.4,37.7 L349.8,38.0 L350.2,38.0 L350.6,38.1 L351.0,37.8 L351.4,37.8 L351.8,37.8 L352.2,38.0 L352.6,37.7 L353.0,37.8 L353.4,37.8 L353.8,38.2 L354.2,37.6 L354.6,38.1 L355.0,38.4 L355.4,38.2 L355.8,37.9 L356.2,38.2 L356.6,38.6 L357.0,38.1 L357.4,38.0 L357.8,38.1 L358.2,37.4 L358.6,38.0 L359.0,38.5 L359.4,37.8 L359.8,38.5 L360.2,37.7 L360.6,38.0 L361.0,38.3 L361.4,38.3 L361.8,37.9 L362.2,37.8 L362.6,38.1 L363.0,38.0 L363.4,37.9 L363.8,38.9 L364.2,38.0 L364.6,37.4 L365.0,38.0 L365.4,37.8 L365.8,37.5 L366.2,38.4 L366.6,38.5 L367.0,37.3 L367.4,38.2 L367.8,37.6 L368.2,38.0 L368.6,37.4 L369.0,37.9 L369.4,38.0 L369.8,38.0 L370.2,38.0 L370.6,37.9 L371.0,38.4 L371.4,38.0 L371.8,38.2 L372.2,38.2 L372.6,38.1 L373.0,37.6 L373.4,38.0 L373.8,38.1 L374.2,38.0 L374.6,38.0 L375.0,38.1 L375.4,38.4 L375.8,37.8 L376.2,37.7 L376.6,37.6 L377.0,38.6 L377.4,38.0 L377.8,37.8 L378.2,38.3 L378.6,37.6 L379.0,38.3 L379.4,37.9 L379.8,38.2 L380.2,38.0 L380.6,38.4 L381.0,37.8 L381.4,38.0 L381.8,37.8 L382.2,38.3 L382.6,37.7 L383.0,38.3 L383.4,38.2 L383.8,37.7 L384.2,38.1 L384.6,37.8 L385.0,38.4 L385.4,37.5 L385.8,37.9 L386.2,38.0 L386.6,38.4 L387.0,38.2 L387.4,38.3 L387.8,37.7 L388.2,37.6 L388.6,38.0 L389.0,38.3 L389.4,38.2 L389.8,38.2 L390.2,38.0 L390.6,37.6 L391.0,37.6 L391.4,37.8 L391.8,37.8 L392.2,38.0 L392.6,38.4 L393.0,38.5 L393.4,37.7 L393.8,37.6 L394.2,38.3 L394.6,38.1 L395.0,37.7 L395.4,38.0 L395.8,37.7 L396.2,38.0 L396.6,38.0 L397.0,37.9 L397.4,37.5 L397.8,38.1 L398.2,38.0 L398.6,37.9 L399.0,38.1 L399.4,38.0 L399.8,37.8 L400.2,37.7 L400.6,37.8 L401.0,37.6 L401.4,38.4 L401.8,37.7 L402.2,38.1 L402.6,37.8 L403.0,37.7 L403.4,38.2 L403.8,38.6 L404.2,37.9 L404.6,37.6 L405.0,37.6 L405.4,37.9 L405.8,37.9 L406.2,38.0 L406.6,37.3 L407.0,37.7 L407.4,38.5 L407.8,38.4 L408.2,37.2 L408.6,38.6 L409.0,37.9 L409.4,37.6 L409.8,38.0 L410.2,38.4 L410.6,38.3 L411.0,37.7 L411.4,37.4 L411.8,37.4 L412.2,37.6 L412.6,36.7 L413.0,37.0 L413.4,36.1 L413.8,35.9 L414.2,33.8 L414.6,33.0 L415.0,31.4 L415.4,30.1 L415.8,29.2 L416.2,27.8 L416.6,29.1 L417.0,29.7 L417.4,31.1 L417.8,33.2 L418.2,34.7 L418.6,35.4 L419.0,35.7 L419.4,37.1 L419.8,37.1 L420.2,36.7 L420.6,37.6 L421.0,37.8 L421.4,37.8 L421.8,38.0 L422.2,38.2 L422.6,37.6 L423.0,38.2"/>
<path d="M259.4,62.5 L260.0,62.6 L260.6,62.3 L261.2,62.9 L261.8,63.1 L262.4,63.3 L263.0,63.6 L263.6,63.8 L264.2,63.9 L264.8,64.3 L265.4,64.3 L266.0,64.2 L266.6,63.9 L267.2,64.0 L267.8,63.1 L268.4,62.5 L269.0,61.9 L269.6,60.9 L270.2,60.1 L270.8,58.9 L271.4,57.9 L272.0,56.4 L272.6,55.2 L273.2,53.9 L273.8,52.2 L274.4,49.2 L275.0,44.1 L275.6,37.3 L276.2,31.1 L276.8,34.5 L277.4,41.7 L278.0,47.6 L278.6,50.8 L279.2,53.5 L279.8,54.7 L280.4,56.2 L281.0,56.9 L281.6,57.4 L282.2,58.2 L282.8,58.2 L283.4,58.7 L284.0,59.1 L284.6,59.6 L285.2,59.6 L285.8,59.3 L286.4,59.7 L287.0,60.4 L287.6,60.7 L288.2,60.7 L288.8,61.0 L289.4,61.7 L290.0,62.7 L290.6,62.9 L291.2,63.9 L291.8,64.0 L292.4,64.7 L293.0,65.2"/>
<path d="M297.0,65.2 L297.4,65.5 L297.8,65.0 L298.2,65.0 L298.6,64.8 L299.0,65.1 L299.4,65.4 L299.8,65.1 L300.2,65.3 L300.6,65.5 L301.0,64.9 L301.4,65.0 L301.8,65.3 L302.2,65.1 L302.6,64.8 L303.0,65.1 L303.4,65.2 L303.8,65.4 L304.2,64.9 L304.6,65.2 L305.0,65.2 L305.4,64.2 L305.8,65.1 L306.2,64.6 L306.6,63.9 L307.0,64.4 L307.4,63.5 L307.8,62.9 L308.2,63.3 L308.6,63.0 L309.0,62.8 L309.4,63.6 L309.8,64.6 L310.2,64.9 L310.6,65.2 L311.0,64.9 L311.4,65.3 L311.8,64.9 L312.2,65.0 L312.6,65.3 L313.0,65.1 L313.4,65.3 L313.8,65.1 L314.2,65.2 L314.6,65.7 L315.0,65.3 L315.4,65.4 L315.8,64.7 L316.2,65.0 L316.6,65.4 L317.0,64.7 L317.4,65.0 L317.8,65.0 L318.2,65.5 L318.6,64.6 L319.0,65.0 L319.4,65.1 L319.8,65.2 L320.2,64.6 L320.6,65.4 L321.0,65.3 L321.4,65.5 L321.8,65.2 L322.2,65.2 L322.6,65.0 L323.0,64.9 L323.4,64.6 L323.8,65.1 L324.2,64.5 L324.6,65.1 L325.0,64.7 L325.4,63.9 L325.8,63.3 L326.2,61.4 L326.6,59.8 L327.0,58.0 L327.4,56.5 L327.8,56.7 L328.2,58.1 L328.6,59.9 L329.0,61.6 L329.4,62.9 L329.8,63.5 L330.2,64.7 L330.6,64.6 L331.0,65.2 L331.4,64.6 L331.8,64.9 L332.2,65.2 L332.6,65.4 L333.0,65.3 L333.4,65.3 L333.8,64.7 L334.2,65.2 L334.6,65.6 L335.0,64.5 L335.4,65.2 L335.8,65.8 L336.2,64.8 L336.6,65.2 L337.0,65.7 L337.4,65.3 L337.8,65.2 L338.2,65.4 L338.6,65.1 L339.0,65.4 L339.4,65.1 L339.8,65.4 L340.2,64.9 L340.6,65.1 L341.0,65.2 L341.4,64.5 L341.8,65.4 L342.2,65.1 L342.6,65.0 L343.0,64.8 L343.4,65.1 L343.8,64.9 L344.2,65.4 L344.6,65.6 L345.0,65.0 L345.4,65.0 L345.8,65.1 L346.2,65.1 L346.6,65.3 L347.0,64.6 L347.4,65.3 L347.8,65.2 L348.2,65.0 L348.6,64.7 L349.0,65.4 L349.4,65.5 L349.8,65.3 L350.2,65.4 L350.6,65.4 L351.0,65.2 L351.4,65.4 L351.8,64.9 L352.2,65.4 L352.6,64.5 L353.0,65.5 L353.4,65.6 L353.8,65.5 L354.2,64.9 L354.6,65.1 L355.0,65.3 L355.4,64.9 L355.8,65.3 L356.2,65.2 L356.6,65.6 L357.0,65.1 L357.4,65.0 L357.8,65.3 L358.2,65.5 L358.6,65.1 L359.0,64.8 L359.4,64.8 L359.8,64.7 L360.2,65.2 L360.6,64.9 L361.0,65.2 L361.4,64.8 L361.8,65.1 L362.2,65.3 L362.6,64.9 L363.0,65.5 L363.4,65.2 L363.8,65.0 L364.2,65.1 L364.6,65.2 L365.0,64.9 L365.4,65.0 L365.8,65.3 L366.2,64.6 L366.6,65.9 L367.0,65.4 L367.4,65.5 L367.8,65.8 L368.2,65.4 L368.6,65.2 L369.0,65.2 L369.4,65.3 L369.8,65.6 L370.2,64.9 L370.6,65.7 L371.0,65.1 L371.4,64.9 L371.8,65.6 L372.2,65.0 L372.6,65.4 L373.0,64.8 L373.4,65.4 L373.8,65.0 L374.2,65.5 L374.6,64.7 L375.0,65.0 L375.4,64.9 L375.8,65.2 L376.2,64.9 L376.6,65.1 L377.0,65.2 L377.4,65.1 L377.8,65.2 L378.2,65.3 L378.6,64.7 L379.0,65.5 L379.4,64.9 L379.8,65.0 L380.2,65.7 L380.6,65.0 L381.0,65.1 L381.4,65.4 L381.8,65.0 L382.2,65.1 L382.6,65.1 L383.0,65.1 L383.4,64.8 L383.8,65.5 L384.2,65.2 L384.6,65.3 L385.0,65.2 L385.4,65.0 L385.8,65.5 L386.2,65.0 L386.6,65.5 L387.0,65.0 L387.4,65.0 L387.8,65.2 L388.2,65.8 L388.6,65.4 L389.0,65.2 L389.4,65.3 L389.8,65.5 L390.2,65.0 L390.6,64.6 L391.0,64.9 L391.4,65.2 L391.8,65.0 L392.2,65.1 L392.6,65.6 L393.0,65.1 L393.4,65.0 L393.8,65.2 L394.2,65.5 L394.6,65.7 L395.0,65.4 L395.4,65.1 L395.8,65.0 L396.2,64.9 L396.6,65.0 L397.0,65.4 L397.4,65.3 L397.8,65.3 L398.2,64.9 L398.6,65.1 L399.0,65.0 L399.4,65.6 L399.8,65.2 L400.2,65.1 L400.6,65.2 L401.0,65.2 L401.4,65.2 L401.8,65.0 L402.2,65.2 L402.6,65.2 L403.0,65.4 L403.4,65.3 L403.8,65.3 L404.2,65.0 L404.6,65.1 L405.0,64.5 L405.4,64.9 L405.8,65.0 L406.2,64.4 L406.6,65.4 L407.0,65.4 L407.4,65.1 L407.8,65.7 L408.2,64.6 L408.6,65.1 L409.0,65.1 L409.4,64.9 L409.8,65.4 L410.2,65.3 L410.6,65.1 L411.0,64.7 L411.4,64.9 L411.8,64.8 L412.2,64.8 L412.6,64.0 L413.0,63.8 L413.4,63.8 L413.8,62.7 L414.2,61.6 L414.6,60.2 L415.0,57.9 L415.4,57.6 L415.8,55.6 L416.2,55.2 L416.6,56.2 L417.0,57.5 L417.4,59.0 L417.8,60.1 L418.2,61.4 L418.6,62.9 L419.0,63.6 L419.4,63.6 L419.8,64.8 L420.2,64.1 L420.6,64.9 L421.0,65.0 L421.4,65.1 L421.8,65.0 L422.2,65.2 L422.6,65.1 L423.0,64.8"/>
<path d="M259.4,89.6 L260.0,90.1 L260.6,90.1 L261.2,90.5 L261.8,90.6 L262.4,90.9 L263.0,90.8 L263.6,91.0 L264.2,91.3 L264.8,91.9 L265.4,92.1 L266.0,92.1 L266.6,91.6 L267.2,90.9 L267.8,91.0 L268.4,90.1 L269.0,89.1 L269.6,88.1 L270.2,87.4 L270.8,86.6 L271.4,85.2 L272.0,84.0 L272.6,82.9 L273.2,81.6 L273.8,79.3 L274.4,76.4 L275.0,71.8 L275.6,64.8 L276.2,58.8 L276.8,61.8 L277.4,69.4 L278.0,74.9 L278.6,78.7 L279.2,80.5 L279.8,82.6 L280.4,83.3 L281.0,84.2 L281.6,84.6 L282.2,85.4 L282.8,85.8 L283.4,86.4 L284.0,86.6 L284.6,86.8 L285.2,86.6 L285.8,87.4 L286.4,87.1 L287.0,87.4 L287.6,87.7 L288.2,88.3 L288.8,88.8 L289.4,89.2 L290.0,89.8 L290.6,90.3 L291.2,91.2 L291.8,91.8 L292.4,91.8 L293.0,92.4"/>
<path d="M297.0,92.7 L297.4,92.2 L297.8,93.2 L298.2,93.3 L298.6,92.6 L299.0,92.2 L299.4,92.4 L299.8,93.3 L300.2,92.3 L300.6,92.8 L301.0,93.2 L301.4,92.6 L301.8,92.7 L302.2,92.8 L302.6,92.7 L303.0,92.8 L303.4,92.9 L303.8,92.4 L304.2,92.4 L304.6,92.6 L305.0,92.3 L305.4,92.5 L305.8,92.3 L306.2,91.9 L306.6,92.2 L307.0,91.0 L307.4,91.2 L307.8,90.0 L308.2,90.2 L308.6,90.5 L309.0,90.7 L309.4,90.9 L309.8,91.5 L310.2,91.9 L310.6,92.4 L311.0,92.2 L311.4,92.2 L311.8,93.0 L312.2,92.6 L312.6,92.6 L313.0,92.4 L313.4,92.8 L313.8,92.9 L314.2,92.8 L314.6,92.7 L315.0,92.1 L315.4,93.1 L315.8,92.4 L316.2,92.9 L316.6,92.8 L317.0,92.6 L317.4,92.7 L317.8,92.7 L318.2,92.4 L318.6,92.7 L319.0,92.2 L319.4,92.6 L319.8,92.9 L320.2,92.5 L320.6,92.7 L321.0,92.9 L321.4,92.6 L321.8,92.6 L322.2,92.8 L322.6,92.7 L323.0,92.1 L323.4,92.5 L323.8,92.5 L324.2,92.4 L324.6,92.1 L325.0,92.4 L325.4,91.9 L325.8,90.9 L326.2,89.3 L326.6,87.0 L327.0,85.5 L327.4,84.1 L327.8,84.4 L328.2,85.7 L328.6,87.7 L329.0,89.8 L329.4,90.4 L329.8,91.8 L330.2,92.4 L330.6,92.5 L331.0,92.8 L331.4,92.2 L331.8,92.8 L332.2,92.4 L332.6,92.5 L333.0,92.2 L333.4,92.4 L333.8,92.7 L334.2,92.6 L334.6,92.6 L335.0,93.1 L335.4,92.9 L335.8,92.6 L336.2,92.9 L336.6,92.3 L337.0,92.6 L337.4,93.0 L337.8,92.8 L338.2,92.4 L338.6,92.2 L339.0,92.7 L339.4,92.9 L339.8,92.9 L340.2,92.3 L340.6,92.6 L341.0,92.6 L341.4,92.5 L341.8,92.4 L342.2,92.7 L342.6,93.1 L343.0,93.0 L343.4,93.0 L343.8,92.6 L344.2,92.5 L344.6,92.8 L345.0,92.4 L345.4,92.8 L345.8,92.6 L346.2,93.4 L346.6,92.6 L347.0,92.8 L347.4,92.7 L347.8,92.7 L348.2,92.5 L348.6,93.0 L349.0,92.8 L349.4,92.5 L349.8,93.4 L350.2,92.9 L350.6,93.0 L351.0,92.7 L351.4,91.9 L351.8,92.6 L352.2,92.6 L352.6,92.9 L353.0,92.6 L353.4,93.0 L353.8,93.1 L354.2,93.2 L354.6,92.2 L355.0,92.7 L355.4,92.6 L355.8,93.1 L356.2,92.9 L356.6,92.6 L357.0,92.9 L357.4,92.6 L357.8,92.6 L358.2,92.0 L358.6,92.1 L359.0,92.8 L359.4,92.5 L359.8,92.9 L360.2,93.0 L360.6,92.5 L361.0,92.8 L361.4,92.7 L361.8,92.4 L362.2,92.6 L362.6,93.2 L363.0,92.9 L363.4,92.4 L363.8,93.2 L364.2,92.6 L364.6,92.8 L365.0,92.2 L365.4,92.9 L365.8,93.0 L366.2,92.5 L366.6,92.7 L367.0,93.0 L367.4,92.7 L367.8,93.0 L368.2,92.7 L368.6,92.7 L369.0,93.1 L369.4,92.5 L369.8,92.7 L370.2,93.1 L370.6,93.2 L371.0,92.8 L371.4,92.4 L371.8,92.4 L372.2,92.4 L372.6,92.8 L373.0,92.8 L373.4,92.5 L373.8,92.8 L374.2,92.8 L374.6,92.9 L375.0,92.6 L375.4,93.0 L375.8,92.8 L376.2,92.9 L376.6,92.9 L377.0,92.7 L377.4,92.5 L377.8,92.1 L378.2,93.0 L378.6,93.1 L379.0,92.3 L379.4,93.4 L379.8,92.9 L380.2,92.5 L380.6,92.6 L381.0,92.8 L381.4,92.7 L381.8,92.8 L382.2,92.7 L382.6,93.0 L383.0,92.8 L383.4,92.4 L383.8,92.5 L384.2,92.7 L384.6,92.6 L385.0,92.7 L385.4,92.4 L385.8,93.1 L386.2,92.6 L386.6,92.6 L387.0,92.6 L387.4,92.9 L387.8,92.6 L388.2,92.8 L388.6,93.0 L389.0,92.7 L389.4,92.4 L389.8,92.3 L390.2,92.8 L390.6,92.7 L391.0,92.8 L391.4,92.3 L391.8,92.9 L392.2,92.6 L392.6,92.5 L393.0,92.4 L393.4,92.2 L393.8,92.6 L394.2,92.5 L394.6,93.5 L395.0,92.9 L395.4,92.6 L395.8,92.5 L396.2,92.7 L396.6,92.3 L397.0,92.5 L397.4,92.5 L397.8,92.5 L398.2,92.4 L398.6,92.5 L399.0,92.8 L399.4,92.6 L399.8,92.1 L400.2,92.6 L400.6,92.8 L401.0,92.7 L401.4,93.1 L401.8,92.6 L402.2,92.7 L402.6,92.8 L403.0,92.4 L403.4,93.1 L403.8,92.8 L404.2,92.1 L404.6,92.6 L405.0,92.9 L405.4,92.2 L405.8,92.8 L406.2,92.4 L406.6,92.7 L407.0,92.3 L407.4,92.5 L407.8,92.4 L408.2,92.5 L408.6,92.5 L409.0,92.7 L409.4,92.4 L409.8,92.0 L410.2,92.3 L410.6,92.7 L411.0,91.9 L411.4,92.3 L411.8,92.3 L412.2,92.4 L412.6,91.9 L413.0,91.8 L413.4,90.8 L413.8,89.9 L414.2,89.2 L414.6,87.2 L415.0,86.0 L415.4,84.5 L415.8,83.4 L416.2,83.0 L416.6,83.5 L417.0,84.8 L417.4,86.0 L417.8,87.5 L418.2,89.4 L418.6,89.9 L419.0,91.5 L419.4,91.7 L419.8,91.7 L420.2,91.8 L420.6,92.5 L421.0,92.0 L421.4,92.4 L421.8,92.3 L422.2,92.8 L422.6,92.0 L423.0,92.2"/>
<path d="M259.4,114.9 L260.0,115.4 L260.6,115.2 L261.2,115.4 L261.8,115.6 L262.4,116.3 L263.0,115.9 L263.6,116.3 L264.2,116.6 L264.8,117.0 L265.4,117.2 L266.0,117.0 L266.6,116.8 L267.2,116.6 L267.8,115.8 L268.4,115.1 L269.0,114.7 L269.6,113.2 L270.2,112.4 L270.8,111.5 L271.4,110.9 L272.0,109.4 L272.6,108.2 L273.2,106.9 L273.8,105.3 L274.4,101.7 L275.0,97.0 L275.6,89.9 L276.2,84.3 L276.8,87.1 L277.4,94.8 L278.0,100.5 L278.6,103.5 L279.2,105.8 L279.8,107.3 L280.4,109.1 L281.0,109.4 L281.6,110.0 L282.2,110.8 L282.8,110.9 L283.4,111.5 L284.0,111.7 L284.6,112.4 L285.2,112.3 L285.8,112.3 L286.4,112.3 L287.0,112.9 L287.6,113.4 L288.2,113.7 L288.8,114.2 L289.4,114.7 L290.0,115.6 L290.6,115.8 L291.2,116.5 L291.8,117.3 L292.4,117.6 L293.0,117.9"/>
<path d="M297.0,118.1 L297.4,117.5 L297.8,117.9 L298.2,118.3 L298.6,118.0 L299.0,117.7 L299.4,117.8 L299.8,118.3 L300.2,118.2 L300.6,118.1 L301.0,118.2 L301.4,118.0 L301.8,118.0 L302.2,117.9 L302.6,117.8 L303.0,118.3 L303.4,117.7 L303.8,118.6 L304.2,118.1 L304.6,117.8 L305.0,118.3 L305.4,118.3 L305.8,117.8 L306.2,117.2 L306.6,117.2 L307.0,116.7 L307.4,116.0 L307.8,115.3 L308.2,115.2 L308.6,115.5 L309.0,115.9 L309.4,116.7 L309.8,116.6 L310.2,117.5 L310.6,117.4 L311.0,117.9 L311.4,117.9 L311.8,118.3 L312.2,118.1 L312.6,117.8 L313.0,118.0 L313.4,117.5 L313.8,118.0 L314.2,118.1 L314.6,118.0 L315.0,117.8 L315.4,118.0 L315.8,118.0 L316.2,118.1 L316.6,117.7 L317.0,118.2 L317.4,118.0 L317.8,117.6 L318.2,117.9 L318.6,118.3 L319.0,118.4 L319.4,117.9 L319.8,117.7 L320.2,117.8 L320.6,118.1 L321.0,118.3 L321.4,118.0 L321.8,117.8 L322.2,118.3 L322.6,118.0 L323.0,117.6 L323.4,117.7 L323.8,118.0 L324.2,117.6 L324.6,117.6 L325.0,117.2 L325.4,117.1 L325.8,116.5 L326.2,115.0 L326.6,112.8 L327.0,110.7 L327.4,110.1 L327.8,109.9 L328.2,110.6 L328.6,113.3 L329.0,114.6 L329.4,115.9 L329.8,116.9 L330.2,117.0 L330.6,117.3 L331.0,118.1 L331.4,117.7 L331.8,117.9 L332.2,118.2 L332.6,118.0 L333.0,117.9 L333.4,118.1 L333.8,118.4 L334.2,118.1 L334.6,117.8 L335.0,118.5 L335.4,118.3 L335.8,117.6 L336.2,118.1 L336.6,118.6 L337.0,117.6 L337.4,117.6 L337.8,118.2 L338.2,117.8 L338.6,117.5 L339.0,118.4 L339.4,117.9 L339.8,118.1 L340.2,118.3 L340.6,118.1 L341.0,117.7 L341.4,118.6 L341.8,118.3 L342.2,118.0 L342.6,117.9 L343.0,117.6 L343.4,118.2 L343.8,117.6 L344.2,118.5 L344.6,117.5 L345.0,118.2 L345.4,117.7 L345.8,117.7 L346.2,118.2 L346.6,118.0 L347.0,118.2 L347.4,117.7 L347.8,118.0 L348.2,117.9 L348.6,118.1 L349.0,118.2 L349.4,118.0 L349.8,117.7 L350.2,118.0 L350.6,117.5 L351.0,117.8 L351.4,118.3 L351.8,117.8 L352.2,118.2 L352.6,117.9 L353.0,117.7 L353.4,118.0 L353.8,118.1 L354.2,118.0 L354.6,118.1 L355.0,118.5 L355.4,118.0 L355.8,118.1 L356.2,117.8 L356.6,118.2 L357.0,117.8 L357.4,118.1 L357.8,117.9 L358.2,118.2 L358.6,118.1 L359.0,118.3 L359.4,118.0 L359.8,118.2 L360.2,118.5 L360.6,117.7 L361.0,117.7 L361.4,118.2 L361.8,118.0 L362.2,118.0 L362.6,117.3 L363.0,117.9 L363.4,118.3 L363.8,118.1 L364.2,118.0 L364.6,118.0 L365.0,117.8 L365.4,117.9 L365.8,118.0 L366.2,117.5 L366.6,118.4 L367.0,117.7 L367.4,118.3 L367.8,118.2 L368.2,117.8 L368.6,117.9 L369.0,118.1 L369.4,118.3 L369.8,117.7 L370.2,118.1 L370.6,118.2 L371.0,117.9 L371.4,118.1 L371.8,117.9 L372.2,117.9 L372.6,117.7 L373.0,117.7 L373.4,118.2 L373.8,118.1 L374.2,118.1 L374.6,117.8 L375.0,118.1 L375.4,118.2 L375.8,117.6 L376.2,117.7 L376.6,117.7 L377.0,118.0 L377.4,118.0 L377.8,118.5 L378.2,118.3 L378.6,117.2 L379.0,118.1 L379.4,117.9 L379.8,118.2 L380.2,117.7 L380.6,117.6 L381.0,117.7 L381.4,118.1 L381.8,117.9 L382.2,118.2 L382.6,118.5 L383.0,117.7 L383.4,117.9 L383.8,118.1 L384.2,118.2 L384.6,117.8 L385.0,118.0 L385.4,117.7 L385.8,118.4 L386.2,118.2 L386.6,118.5 L387.0,118.4 L387.4,118.1 L387.8,118.2 L388.2,118.2 L388.6,118.0 L389.0,117.9 L389.4,117.9 L389.8,118.1 L390.2,118.1 L390.6,118.3 L391.0,118.0 L391.4,118.1 L391.8,118.4 L392.2,117.8 L392.6,117.7 L393.0,118.7 L393.4,117.7 L393.8,117.8 L394.2,118.4 L394.6,117.9 L395.0,117.8 L395.4,118.0 L395.8,117.9 L396.2,117.7 L396.6,117.4 L397.0,117.7 L397.4,117.6 L397.8,117.8 L398.2,117.7 L398.6,118.2 L399.0,118.1 L399.4,117.8 L399.8,118.4 L400.2,118.5 L400.6,117.5 L401.0,117.7 L401.4,118.5 L401.8,118.0 L402.2,117.9 L402.6,117.8 L403.0,117.9 L403.4,118.2 L403.8,118.1 L404.2,117.9 L404.6,117.8 L405.0,117.8 L405.4,118.2 L405.8,117.8 L406.2,117.9 L406.6,117.9 L407.0,118.0 L407.4,117.5 L407.8,118.6 L408.2,118.1 L408.6,118.3 L409.0,117.5 L409.4,117.4 L409.8,117.9 L410.2,117.7 L410.6,117.5 L411.0,118.2 L411.4,117.3 L411.8,117.2 L412.2,118.0 L412.6,117.4 L413.0,116.5 L413.4,116.6 L413.8,115.3 L414.2,114.3 L414.6,113.0 L415.0,111.4 L415.4,110.5 L415.8,108.6 L416.2,108.2 L416.6,108.5 L417.0,109.9 L417.4,111.2 L417.8,113.0 L418.2,114.8 L418.6,116.1 L419.0,116.3 L419.4,117.0 L419.8,117.1 L420.2,117.4 L420.6,117.8 L421.0,117.1 L421.4,117.5 L421.8,117.5 L422.2,117.5 L422.6,117.7 L423.0,117.9"/>
</g>
<g fill="#222" font-size="6.2" stroke="#222" stroke-width="0.15">
<text x="22" y="130.4" text-anchor="middle">100</text>
<text x="36.5" y="130.4" text-anchor="middle">200</text>
<text x="51" y="130.4" text-anchor="middle">300</text>
<text x="91.4" y="130.4" text-anchor="middle">1500</text>
<text x="128" y="130.4" text-anchor="middle">2000</text>
<text x="165.3" y="130.4" text-anchor="middle">2500</text>
<text x="202.4" y="130.4" text-anchor="middle">3000</text>
<text x="259.5" y="128.2" text-anchor="middle">200</text>
<text x="277.3" y="128.2" text-anchor="middle">300</text>
<text x="320.7" y="128.2" text-anchor="middle">1500</text>
<text x="360.3" y="128.2" text-anchor="middle">2000</text>
<text x="399.8" y="128.2" text-anchor="middle">2500</text>
<text x="439.8" y="128.2" text-anchor="middle">3000</text>
</g>
<g fill="#222" font-size="7.2" stroke="#222" stroke-width="0.18">
<text x="73.9" y="143.9">Raman shift(cm<tspan font-size="4.6" dy="-2.8">-1</tspan><tspan dy="2.8">)</tspan></text>
<text x="320.8" y="141.6">Raman shift(cm<tspan font-size="4.6" dy="-2.8">-1</tspan><tspan dy="2.8">)</tspan></text>
<text transform="translate(7.9,63.6) rotate(-90)" font-size="7.65">Intensity(a.u.)</text>
<text transform="translate(248.3,60.2) rotate(-90)" font-size="7.55">Intensity(a.u.)</text>
</g>
<g fill="#222" font-size="12">
<text transform="translate(2.9,158.9) scale(0.88,1)" stroke="#222" stroke-width="0.35">c</text>
<text transform="translate(237.6,157.7) scale(0.85,1)">d</text>
</g>
<g clip-path="url(#clipc)">
<defs>
<linearGradient id="gL1" x1="0" y1="0" x2="0" y2="1"><stop offset="0" stop-color="#7a3410"/><stop offset="1" stop-color="#9a4c18"/></linearGradient>
<linearGradient id="gL2" x1="0" y1="0" x2="0" y2="1"><stop offset="0" stop-color="#3e0c03"/><stop offset="1" stop-color="#64240a"/></linearGradient>
<linearGradient id="gL3" x1="0" y1="0" x2="0" y2="1"><stop offset="0" stop-color="#84400f"/><stop offset="1" stop-color="#3e0e04"/></linearGradient>
<linearGradient id="gL5" x1="1" y1="0" x2="0" y2="1"><stop offset="0" stop-color="#6a2808"/><stop offset="0.5" stop-color="#84400f"/><stop offset="1" stop-color="#a45c1a"/></linearGradient>
<linearGradient id="gM3" x1="0" y1="0" x2="1" y2="0"><stop offset="0" stop-color="#74300c"/><stop offset="1" stop-color="#a05a18"/></linearGradient>
<linearGradient id="gG" x1="0" y1="0" x2="1" y2="1"><stop offset="0" stop-color="#ac6c20"/><stop offset="0.5" stop-color="#c08430"/><stop offset="1" stop-color="#aa6822"/></linearGradient>
</defs>
<rect x="23.9" y="149.1" width="156.3" height="102.9" fill="#4a1406"/>
<!-- golden region -->
<path d="M80.5,148.5 L180.2,148.5 L180.2,252 L125,252 L117.9,240 L109,235.3 L107,224.4 L104.8,215.6 L102.6,206.9 L100.4,202.5 L97,197 L95,194 L91.4,188.6 L88,185 L83,180 L80,174 L80,170 Z" fill="url(#gG)"/>
<path d="M80.5,148.5 L100,148.5 L101,160 L94.6,160 L103,168 L90,172 L80,170 Z" fill="#a05e1a"/>
<path d="M128,168 L144,158 L166,156 L180.2,162 L180.2,202 L160,200 L150,196 L144,192 L130,190 Z" fill="#96501a"/>
<path d="M166,148.5 L180.2,148.5 L180.2,162 L166,157 Z" fill="#b87a2a"/>
<path d="M128,148.5 L166,148.5 L166,156 L144,158 L128,166 Z" fill="#a4621c"/>
<path d="M150,204 L180.2,200 L180.2,252 L150,252 Z" fill="#955016"/>
<path d="M150,206 L163,203 L163,228 L150,232 Z" fill="#a05a18"/>
<path d="M163,200 L180.2,200 L180.2,218 L163,218 Z" fill="#c08838"/>
<path d="M168,218 L180.2,218 L180.2,232 L168,231 Z" fill="#6a2808"/>
<path d="M150,234 L180.2,234 L180.2,252 L150,252 Z" fill="#9a5014"/>
<path d="M128,194 L160,196 L163,200 L163,216 L150,219 L131,222.7 L125,215 Z" fill="#cf9f4e"/>
<path d="M104,188 L112,185 L128,186 L132,198 L131,222.7 L112,216 L107,215.6 L104.8,212 L102.6,206.9 L100.4,202.5 L99,196 Z" fill="#dcb26a"/>
<path d="M109,197 L122,196 L128,204 L122,213 L112,214 Z" fill="#ecd3a0"/>
<path d="M107,215.6 L112,216 L131,222.7 L150,219 L163,218 L163,228 L150,238 L135,252 L121.6,252 L119.3,242.7 L112.7,239.3 L107.1,236 Z" fill="#c28a38"/>
<path d="M135,252 L150,238 L163,228 L168,231 L180.2,232 L180.2,252 Z" fill="#9a5516"/>
<path d="M144,176 L154,178 L154,200 L144,196 Z" fill="#7e3c12"/>
<path d="M144,158 L154,157 L154,176 L144,178 Z" fill="#a05a18"/>
<path d="M144,190 L156,188 L158,201 L144,201 Z" fill="#b06a20"/>
<path d="M175,162 L180.2,162 L180.2,202 L175,200 Z" fill="#a86a20"/>
<path d="M160,176 L172,172 L172,186 L160,190 Z" fill="#a2601c"/>
<path d="M150,222 L180.2,212 L180.2,252 L152,252 Z" fill="#9a5518"/>
<!-- left column terraces -->
<path d="M23.5,148.5 L49,148.5 L49,167.7 L23.5,159.4 Z" fill="url(#gL1)"/>
<path d="M23.5,159.4 L49,167.7 L49,189.4 L23.5,183 Z" fill="url(#gL2)"/>
<path d="M23.5,183 L49,189.4 L49,201 L23.5,197 Z" fill="url(#gL3)"/>
<path d="M23.5,196 L49,199 L49,214 L23.5,219 Z" fill="#7a3510"/>
<path d="M23.5,207 L40,204 L49,202 L49,214 L40,217 L23.5,219 Z" fill="#3e0e04"/>
<path d="M23.5,219 L40,217 L49,214 L49,226 L23.5,232 Z" fill="#642508"/>
<path d="M23.5,232 L49,226 L49,252 L23.5,252 Z" fill="url(#gL5)"/>
<!-- second column -->
<path d="M49,148.5 L80.5,148.5 L80.5,151 L49,151 Z" fill="#7a3010"/>
<path d="M65.7,150.5 L80.5,150.5 L80,170 L76,176 L70.8,170.8 L70.8,166 L66.7,166 L66.7,157 L65.7,157 Z" fill="url(#gM3)"/>
<path d="M50,150.5 L65.7,150.5 L65.7,157 L66.7,157 L66.7,166 L70.8,166 L70.8,170.8 L50,170.8 Z" fill="#380902"/>
<path d="M50,170.8 L70.8,170.8 L76,176 L76,181.7 L50,178 Z" fill="#6a2808"/>
<path d="M49,178 L76,181.7 L83,180 L88,185 L91.4,188.6 L95,194 L97,197 L100.4,202.5 L102.6,206.9 L104.8,215.6 L107,224.4 L107.1,236 L112.7,239.3 L119.3,242.7 L121.6,252 L49,252 Z" fill="#3a0a02"/>
<path d="M50,178 L76,181.7 L83,180 L88,185 L91.4,188.6 L80,195 L70,192 L50,190 Z" fill="#4e1606"/>
<path d="M72,195 L91.4,188.6 L95,194 L97,197 L98,200 L85,205 L75,205 Z" fill="#642408"/>
<path d="M70,213 L85,205 L98,200 L100.4,202.5 L101.5,207 L80,216 Z" fill="#561a06"/>
<path d="M72,225 L82,220 L102.5,211 L104.8,215.6 L100,222 L80,232 Z" fill="#4a1406"/>
<path d="M50,195 L56,195 L56,205 L62,205 L62,212 L70,212 L70,220 L78,228 L78,252 L50,252 Z" fill="#260500"/>
<path d="M80,232 L104.5,220 L107,224.4 L107.1,236 L112.7,239.3 L119.3,242.7 L121.6,252 L78,252 Z" fill="#220400"/>
<path d="M50,238 L60,238 L66,246 L66,252 L50,252 Z" fill="#3e0e04"/>
</g>

<g clip-path="url(#clipc)"><g>
</g>
<g fill="none" stroke-linecap="round" stroke-linejoin="round">
<g stroke="#d09048" stroke-width="0.7" opacity="0.6">
<path d="M84.3,178.6 L96.7,170.4"/>
<path d="M52.2,197.7 L79.1,183.2"/>
<path d="M24.4,215 L37.8,205 L46.7,200.4"/>
<path d="M24.4,231.6 L44.4,220.4"/>
<path d="M68.2,236 L82,227"/>
<path d="M34.3,161.9 L44.6,155.2"/>
<path d="M24,159.6 L49,167.9" stroke="#b06a28"/>
<path d="M24,183.2 L49,189.6" stroke="#a05a20"/>
</g>
<g stroke="#f2d8a6" stroke-width="0.8" opacity="0.85">
<path d="M111.5,186 L112,214"/>
<path d="M112,214 L120,209 L128.8,204.7 L140,201 L150,198"/>
<path d="M111,216 L131,222.7 L155.3,218.2 L164,209.3"/>
<path d="M131,222.7 L126.4,242.7 L124.2,252"/>
<path d="M124,248 L150,236 L164,226 L180,220" stroke-width="0.6"/>
<path d="M163.6,203 L163.6,218"/>
<path d="M150,214 Q156,208 161,206" stroke-width="0.6"/>
</g>
<path d="M49.7,149 L49.5,170 L49.2,200 L48.7,237" stroke="#e8b860" stroke-width="1.1"/>
<path d="M48.7,237 L33.3,252.5 M48.7,237 L59.5,252.5" stroke="#e0a850" stroke-width="1.1"/>
<path d="M49.7,151.5 L49.6,157.5" stroke="#fff4d0" stroke-width="1.9"/>
</g>

</g>
<g clip-path="url(#clipd)">
<rect x="257.9" y="148.3" width="158.2" height="103.7" fill="#5a1205"/>
<g filter="url(#blur2)">
<path d="M256,146 L281,146 L279,160 L268,163 L265,172 L256,176 Z" fill="#3c0802"/>
<path d="M281,146 L300,146 L297,156 L285,158 Z" fill="#4a0e04"/>
<circle cx="292" cy="166" r="3.2" fill="#360702"/>
<path d="M316,146 L340,146 L338,157 L325,157 L318,155 Z" fill="#7e3010"/>
<path d="M256,180 L261,180 L261,196 L256,196 Z" fill="#8a3a10"/>
<path d="M256,200 L262,200 L262,225 L256,225 Z" fill="#7a3010"/>
<path d="M297,214 L310,208 L330,210 L333,225 L328,242 L312,246 L300,250 L296,235 Z" fill="#3a0802"/>
<path d="M330,236 L365,230 L366,254 L330,254 Z" fill="#4a0e04"/>
<path d="M370,205 L395,202 L398,222 L380,226 L370,220 Z" fill="#4a0e04"/>
<path d="M292,199 L300,199 L300,206 L292,206 Z" fill="#3a0802"/>
<path d="M396,198 L418,196 L418,218 L400,218 Z" fill="#6a2008"/>
<ellipse cx="398" cy="153" rx="9" ry="4.5" fill="#7a3010"/>
<path d="M365,146 L388,146 L386,160 L366,160 Z" fill="#4a0c04"/>
<path d="M407,146 L418,146 L418,165 L410,162 Z" fill="#3e0a03"/>
</g>
<g filter="url(#blur1)">
<path d="M386.3,169.2 L394,166.6 L401.8,167.9 L408.2,171.8 L410.8,176.9 L410.8,183.4 L409.5,188.5 L404.4,191 L399.2,189.8 L394,187.2 L388.9,186 L383.7,183.4 L382.4,178.2 L383.7,173 Z" fill="#c07822"/>
<path d="M386,172 L396,169 L402,172 L400,180 L392,182 L386,180 Z" fill="#d49434"/>
<path d="M394,184 L401,182 L404,191 L397,191 Z" fill="#8e4612"/>
<path d="M383,176 L390,172 L394,180 L390,186 L384,183 Z" fill="#c89022"/>
<path d="M401.8,196.2 L409.5,192.4 L414.7,196.2 L418,197.5 L418,214.3 L412,215.6 L404.4,214.3 L400.5,210.4 L400.5,202.7 Z" fill="#a85818"/>
<path d="M404,200 L412,198 L415,206 L408,210 L403,206 Z" fill="#b86a22"/>
<path d="M281.7,221.7 L286.9,219.6 L293.1,220.6 L296.2,224.8 L296.2,229.9 L293.1,234 L287.9,235.1 L284,233 Z" fill="#a44e16"/>
<ellipse cx="290" cy="226" rx="4" ry="4" fill="#b45c1c" filter="url(#blur2)"/>
<path d="M267.3,234 L270.4,229.9 L276.6,227.9 L282.8,228.9 L285.5,234 L284.8,236.1 L282.8,241.3 L281.7,247.5 L278.6,252.5 L260,252.5 L260,243.3 L264.2,238.2 Z" fill="#8e3e10"/>
<path d="M262,246 L272,240 L278,244 L276,252.5 L262,252.5 Z" fill="#98460f"/>
</g>
<g fill="none" stroke="#f2e0b8" stroke-width="0.95" stroke-linecap="round" stroke-linejoin="round">
<path stroke-width="1.3" d="M258,193.4 L268.3,192.3 L278.6,190.3 L289,188.2 L299.2,185.1 L307.5,182.6 L312.6,180 L314.7,175.8 L317.8,171.7 L320.9,169"/>
<path d="M320.9,169 L328.1,171.7 L338,177.9 L341.8,181.8 L352.7,189.4 L361.4,197.1 L366.9,202.5 L368,205.8 L368.1,220.6 L376.4,233 L384.6,248.5 L385.6,252.5"/>
<path d="M312.6,180 L318.8,184"/>
<path d="M320.9,169 L319.4,161.4"/>
<path d="M363.6,148 L362.6,160 L360.6,173 L357,181.8 L352.7,188.3"/>
<path d="M366.9,202.5 L376.7,198.1 L389.8,190.5 L392,187.2"/>
<path d="M338,177.9 L350,188"/>
<path d="M292,250.5 L301,245.5 L311,239.2 L324,231 L337,220.6 L346,215 L357.4,208.2"/>
<path d="M384.6,247.4 L393,243 L402,238.5 L410,235 L417,233"/>
<path d="M267.3,217.5 L263,225 L258.5,233"/>
<path d="M376,197.5 L383,194 L389,191"/>
<path d="M364,202 L368,204 L372.2,200"/>
</g>
<ellipse cx="321" cy="168.6" rx="2.2" ry="2" fill="#fff"/>
<circle cx="374.8" cy="247.9" r="2.6" fill="#fff"/>
<circle cx="399.2" cy="175" r="0.9" fill="#f0c060"/>
</g>

<g fill="#fff" font-size="10.8" stroke="#fff" stroke-width="0.2"><text x="102" y="164.1">RMS: 0.389nm</text><text x="338" y="164">RMS: 0.578nm</text></g>
<rect x="193.6" y="195" width="6.8" height="57" fill="url(#cbar)"/>
<rect x="427" y="195.5" width="7.6" height="56.5" fill="url(#cbar)"/>
<g fill="#333" font-size="6.3">
<text x="187.6" y="190">1.8nm</text>
<text x="422.7" y="188.6">2.5nm</text>
</g>
</svg>
</body></html>
